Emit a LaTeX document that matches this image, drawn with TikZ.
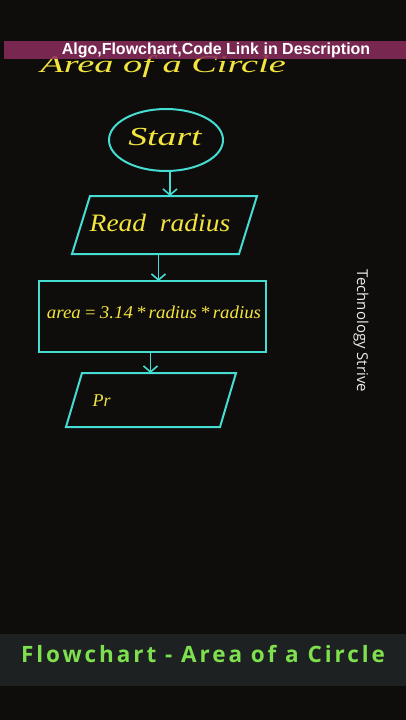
\documentclass[tikz,border=0pt]{standalone}
\usepackage{fontspec}
\setmainfont{Liberation Serif}
\newfontfamily\bannerfont{Liberation Sans}
\newfontfamily\wmfont{Open Sans}
\newfontfamily\bottomfont[LetterSpace=13]{Open Sans}
\usetikzlibrary{shapes.geometric,arrows.meta,calc}
\definecolor{bgc}{HTML}{0F0D0C}
\definecolor{bandc}{HTML}{1E2121}
\definecolor{bannerc}{HTML}{8B2D5C}
\definecolor{linec}{HTML}{45DCD2}
\definecolor{hand}{HTML}{F3E53E}
\definecolor{greenc}{HTML}{7EE04E}
\tikzset{
  shapeline/.style={draw=linec, line width=2pt},
  handtext/.style={text=hand, font=\itshape},
  arr/.style={draw=linec, line width=1.6pt, -{Straight Barb[length=6pt,width=14pt,line width=1.6pt]}},
  boxnode/.style={inner sep=0pt, outer sep=0pt}
}
\begin{document}
\begin{tikzpicture}[x=1pt,y=-1pt]
\fill[bgc] (0,0) rectangle (406,720);
\useasboundingbox (0,0) rectangle (406,720);
% heading behind banner
\node[handtext, font=\itshape\fontsize{24}{26}\selectfont, anchor=base west, xscale=1.6, inner sep=0pt] (heading) at (40,72) {Area of a Circle};
% banner
\fill[bannerc, opacity=0.85] (4,41) rectangle (406,59);
\node[text=white, font=\bannerfont\bfseries\fontsize{16}{18}\selectfont, inner sep=0pt] (banner) at (216,50) {Algo,Flowchart,Code Link in Description};
% start
\node[shapeline, ellipse, minimum width=114pt, minimum height=62pt] (start) at (166,140) {};
\node[handtext, font=\itshape\fontsize{26}{28}\selectfont, xscale=1.45] (starttxt) at (165,137) {Start};
% read
\node[boxnode, minimum width=167pt, minimum height=58pt] (read) at (164.5,225) {};
\node[handtext, font=\itshape\fontsize{25}{28}\selectfont, xscale=1.1] (readtxt) at (160,223) {Read\ \ radius};
\draw[shapeline] ([xshift=9pt]read.north west) -- ([xshift=9pt]read.north east) -- ([xshift=-9pt]read.south east) -- ([xshift=-9pt]read.south west) -- cycle;
% area
\node[shapeline, boxnode, minimum width=227pt, minimum height=71pt] (area) at (152.5,316.5) {};
\node[handtext, font=\itshape\fontsize{18}{20}\selectfont, xscale=1.05] (areatxt) at (154,312) {area\,=\,3.14\,*\,radius\,*\,radius};
% print
\node[boxnode, minimum width=154pt, minimum height=54pt] (print) at (151,400) {};
\draw[shapeline] ([xshift=8pt]print.north west) -- ([xshift=8pt]print.north east) -- ([xshift=-8pt]print.south east) -- ([xshift=-8pt]print.south west) -- cycle;
\node[handtext, font=\itshape\fontsize{18}{20}\selectfont, anchor=west] (pr) at (89,401) {Pr};
% arrows
\draw[arr] ([xshift=4pt]start.south) -- ([xshift=4pt]start.south |- read.north);
\draw[arr] ([xshift=-6pt]read.south) -- ([xshift=-6pt]read.south |- area.north);
\draw[arr] ([xshift=-2pt]area.south) -- ([xshift=-2pt]area.south |- print.north);
% watermark
\node[text=white!92!black, font=\wmfont\fontsize{15}{17}\selectfont, rotate=-90] (wm) at (361,331) {Technology Strive};
% bottom band
\fill[bandc] (0,634) rectangle (406,686);
\node[text=greenc, font=\bottomfont\bfseries\fontsize{22.5}{26}\selectfont] (title) at (203,654) {Flowchart - Area of a Circle};
\end{tikzpicture}
\end{document}
